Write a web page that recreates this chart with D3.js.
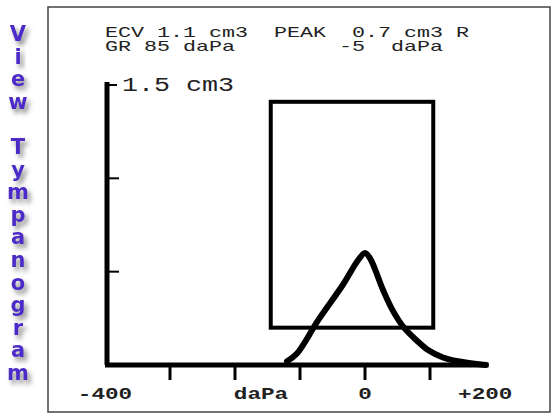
<!DOCTYPE html><html><head><script src="https://cdn.jsdelivr.net/npm/d3@7"></script>
<style>body{margin:0;background:#fff}</style></head><body><svg id="c" width="559" height="420"></svg>
<script>
const sideLetters = ["V","i","e","w","","T","y","m","p","a","n","o","g","r","a","m"];
const headerLines = ["ECV 1.1 cm3  PEAK  0.7 cm3 R", "GR 85 daPa        -5  daPa"];
const xTicks = [-400,-300,-200,-100,0,100,200];
const xLabels = [{v:-400,t:"-400"},{v:-160,t:"daPa"},{v:0,t:"0"},{v:185,t:"+200"}];
const yTicks = [0.5,1.0];
const pressure = [-120,-105,-72,-34,-11,0,8,28,43,60,80,97,120,143,186];
const volume =   [0.02,0.06,0.24,0.43,0.56,0.6,0.57,0.4,0.29,0.2,0.13,0.08,0.04,0.02,0.0];
const boxP = [-145,105], boxV = [0.2,1.41];

const svg=d3.select("#c");
const defs=svg.append("defs");
const f=defs.append("filter").attr("id","sh").attr("x","-50%").attr("y","-50%").attr("width","200%").attr("height","200%");
f.append("feGaussianBlur").attr("in","SourceAlpha").attr("stdDeviation",2.5);
f.append("feOffset").attr("dx",3).attr("dy",4).attr("result","b");
f.append("feFlood").attr("flood-color","#888");
f.append("feComposite").attr("in2","b").attr("operator","in");
const m=f.append("feMerge");m.append("feMergeNode");m.append("feMergeNode").attr("in","SourceGraphic");

svg.append("rect").attr("x",48).attr("y",7).attr("width",502).attr("height",405).attr("fill","#fff").attr("stroke","#444").attr("stroke-width",1.5);

sideLetters.forEach((l,i)=>svg.append("text").attr("x",18).attr("y",41+i*22.6).attr("text-anchor","middle")
 .attr("font-family","Verdana, DejaVu Sans, sans-serif").attr("font-weight","bold").attr("font-size",21)
 .attr("fill","#4e2cc8").attr("filter","url(#sh)").text(l));

const x=d3.scaleLinear().domain([-400,200]).range([105,495]);
const y=d3.scaleLinear().domain([0,1.5]).range([365,85]);
const mono="'Liberation Mono','Courier New',monospace";
headerLines.forEach((t,i)=>svg.append("text").attr("x",105).attr("y",37+i*14).attr("font-family",mono).attr("font-size",15).attr("fill","#222")
  .attr("textLength",t.length*13).attr("lengthAdjust","spacingAndGlyphs").style("white-space","pre").text(t));

// axes
svg.append("line").attr("x1",x(-400)).attr("x2",x(190)).attr("y1",y(0)).attr("y2",y(0)).attr("stroke","#000").attr("stroke-width",5);
svg.append("line").attr("x1",107).attr("x2",107).attr("y1",y(0)).attr("y2",y(1.5)-3).attr("stroke","#000").attr("stroke-width",5);
svg.selectAll(".xt").data(xTicks.slice(1,-1)).join("line").attr("x1",d=>x(d)).attr("x2",d=>x(d)).attr("y1",y(0)).attr("y2",y(0)+15).attr("stroke","#000").attr("stroke-width",3);
svg.selectAll(".yt").data(yTicks).join("line").attr("x1",107).attr("x2",119).attr("y1",d=>y(d)).attr("y2",d=>y(d)).attr("stroke","#000").attr("stroke-width",2);
svg.append("line").attr("x1",107).attr("x2",117).attr("y1",y(1.5)).attr("y2",y(1.5)).attr("stroke","#000").attr("stroke-width",2);
svg.append("text").attr("x",122).attr("y",y(1.5)+6).attr("font-family",mono).attr("font-size",20).attr("fill","#222")
  .attr("textLength",112).attr("lengthAdjust","spacingAndGlyphs").text("1.5 cm3");
svg.selectAll(".xl").data(xLabels).join("text").attr("x",d=>x(d.v)-d.t.length*6.8).attr("y",399).attr("font-family",mono).attr("font-size",17).attr("font-weight","bold").attr("fill","#222")
  .attr("textLength",d=>d.t.length*13.6).attr("lengthAdjust","spacingAndGlyphs").text(d=>d.t);

svg.append("rect").attr("x",x(boxP[0])).attr("y",y(boxV[1])).attr("width",x(boxP[1])-x(boxP[0])).attr("height",y(boxV[0])-y(boxV[1])).attr("fill","none").attr("stroke","#000").attr("stroke-width",4);

const line=d3.line().x((d,i)=>x(pressure[i])).y(d=>y(d)).curve(d3.curveCatmullRom);
svg.append("path").attr("d",line(volume)).attr("fill","none").attr("stroke","#000").attr("stroke-width",6).attr("stroke-linecap","round").attr("stroke-linejoin","round");
</script></body></html>
